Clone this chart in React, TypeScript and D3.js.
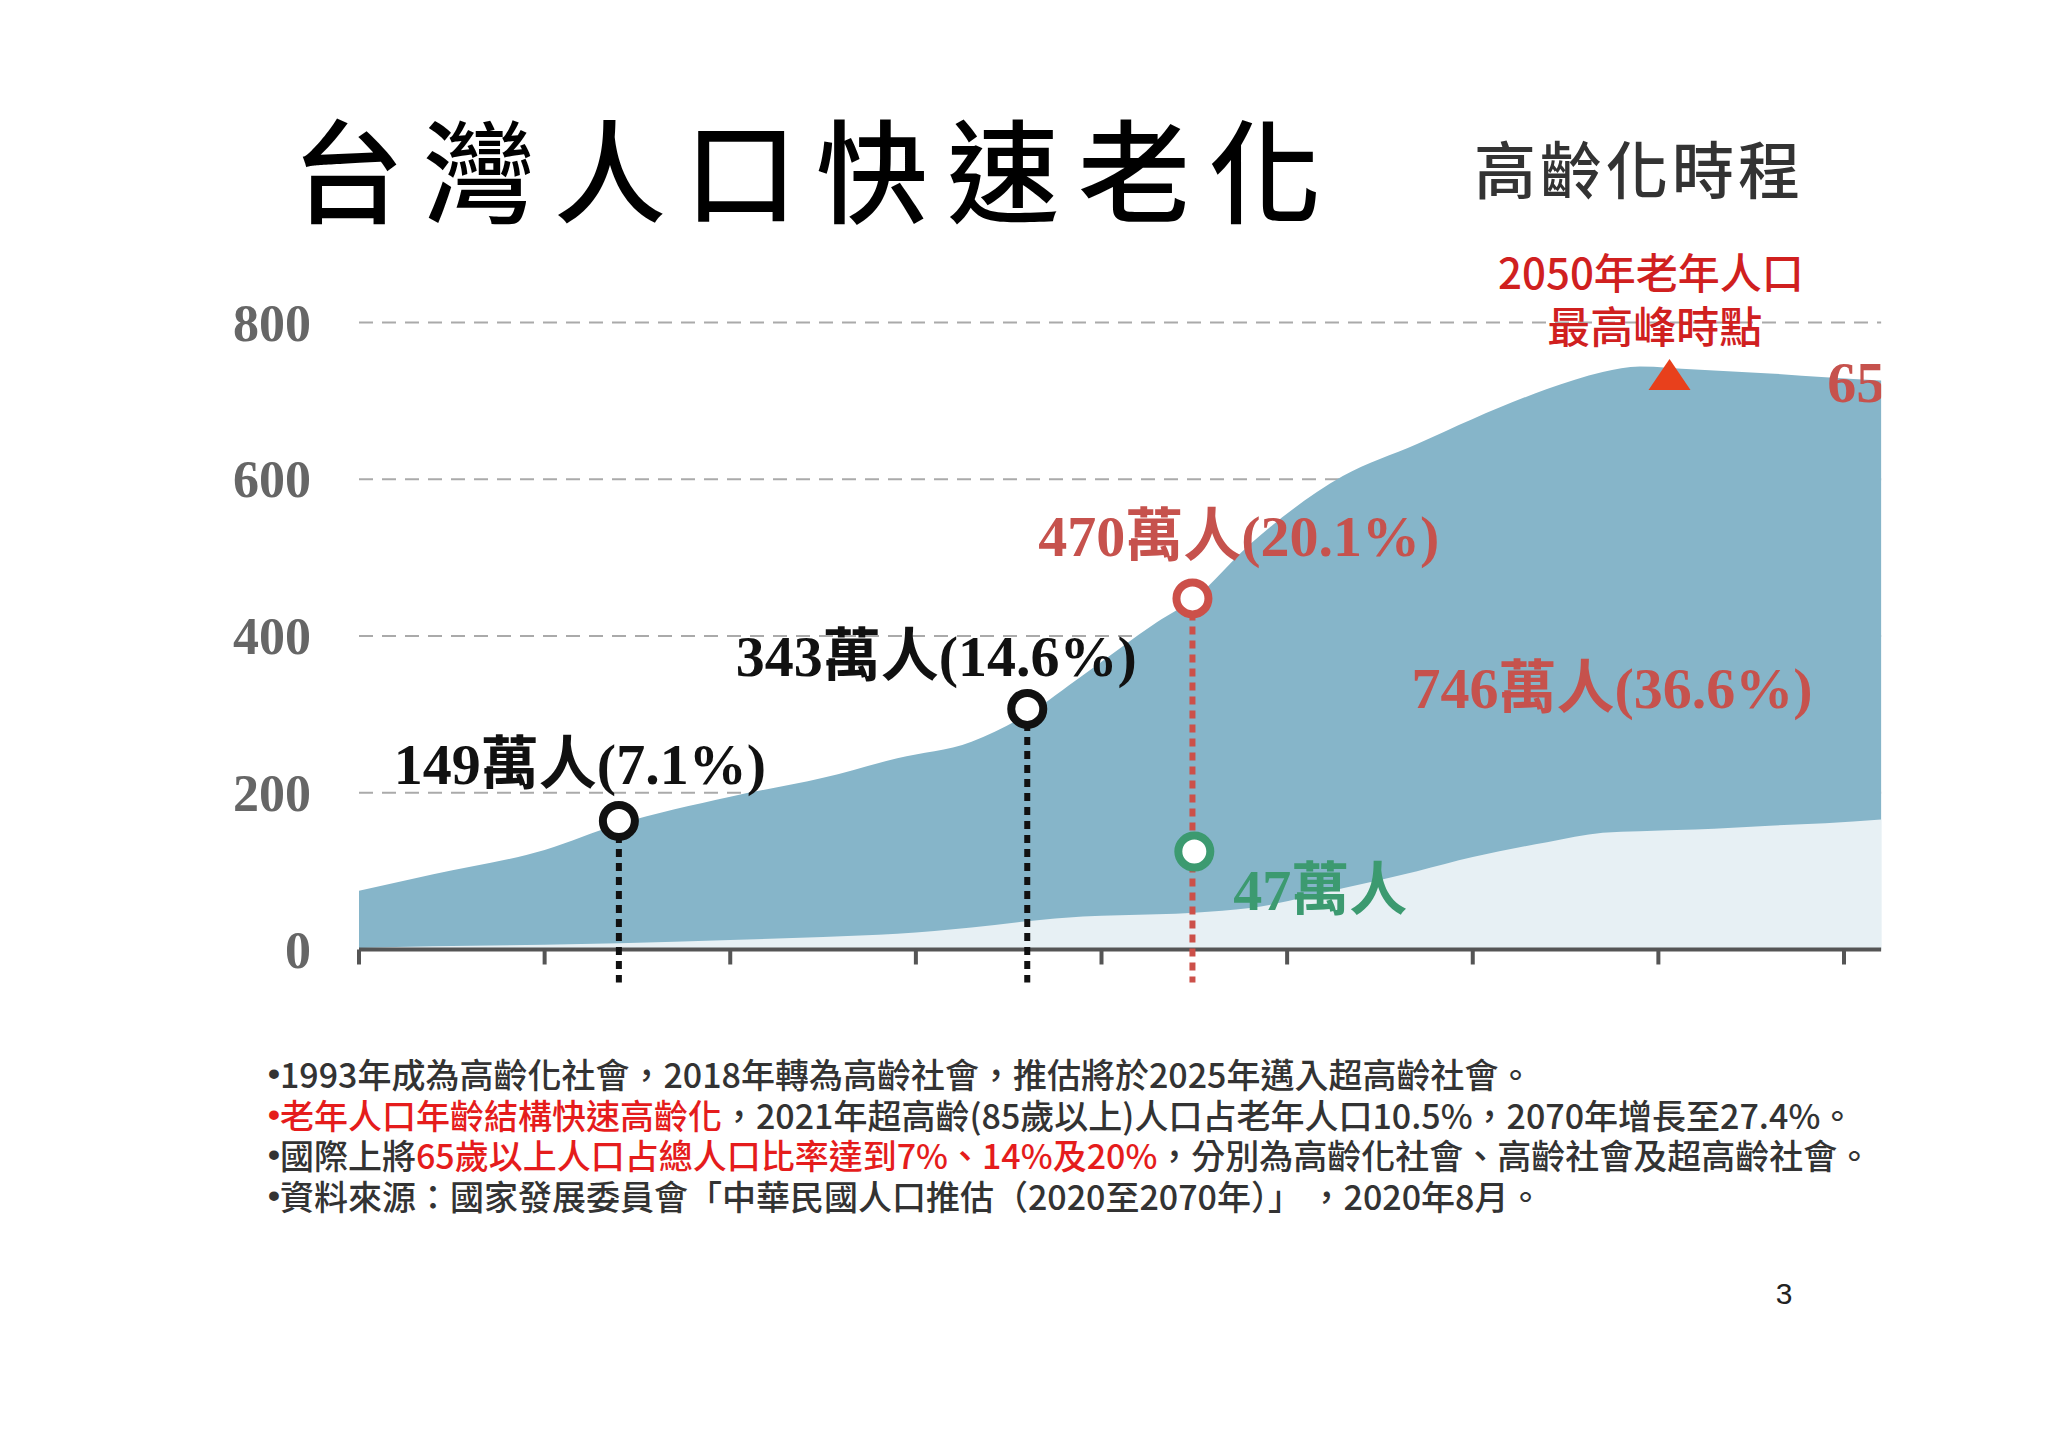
import * as d3 from "d3";

const W = 2048;
const H = 1448;

// years (ticks every 10 years)
const years = [1980, 1984, 1990, 1994, 2000, 2005, 2009, 2013, 2016, 2019, 2023, 2025, 2028, 2033, 2037, 2040, 2044, 2047, 2049, 2052, 2056, 2059, 2062];
// 65+ population (萬人), top of the dark area
const elderly = [75, 96, 127, 160, 195, 219, 244, 265, 300, 350, 418, 448, 517, 604, 645, 677, 715, 737, 744, 740, 735, 730, 726];
// 85+ population (萬人), top of the light area
const oldest = [2, 4, 6, 8, 12, 16, 20, 28, 36, 42, 45, 47, 53, 78, 100, 118, 137, 149, 151, 153, 158, 161, 166];

const yTicks = [0, 200, 400, 600, 800];
const gridValues = [200, 400, 600, 800];

const markerYears = [1994, 2016, 2024.9];
const markerValues = [164, 307, 448];
const markerColors = ["#111", "#111", "#cc5049"];

const labelTexts = ["149萬人(7.1%)", "343萬人(14.6%)", "470萬人(20.1%)", "746萬人(36.6%)", "47萬人", "65"];
const labelYears = [1991.9, 2011.1, 2027.4, 2047.5, 2027.1, 2059.1];
const labelValues = [211, 349, 502, 308, 50, 698];
const labelColors = ["#111", "#111", "#c6524d", "#c6524d", "#3c9a70", "#c6524d"];
const labelAnchors = ["middle", "middle", "middle", "middle", "start", "start"];

const peakYear = 2050.6;
const peakValue = 714;
const greenYear = 2025;
const greenValue = 125;

const notes = [
  [["1993年成為高齡化社會，2018年轉為高齡社會，推估將於2025年邁入超高齡社會。", false]],
  [["老年人口年齡結構快速高齡化", true], ["，2021年超高齡(85歲以上)人口占老年人口10.5%，2070年增長至27.4%。", false]],
  [["國際上將", false], ["65歲以上人口占總人口比率達到7%、14%及20%", true], ["，分別為高齡化社會、高齡社會及超高齡社會。", false]],
  [["資料來源：國家發展委員會「中華民國人口推估（2020至2070年）」 ，2020年8月。", false]],
] as [string, boolean][][];

const SERIF = "'Liberation Serif', 'Times New Roman', 'Noto Sans CJK TC', serif";
const SANS = "'Noto Sans CJK TC', 'Noto Sans', sans-serif";

export default function App() {
  const x = d3.scaleLinear().domain([1980, 2060]).range([359, 1844]);
  const y = d3.scaleLinear().domain([0, 800]).range([949.5, 322.5]);
  const right = x(years[years.length - 1]);

  const area = d3
    .area<number>()
    .x((_, i) => x(years[i]))
    .y0(y(0))
    .y1((d) => y(d))
    .curve(d3.curveMonotoneX);

  const dotBottom = y(0) + 33;
  const px = x(peakYear);
  const py = y(peakValue);

  return (
    <svg
      width={W}
      height={H}
      style={{ position: "absolute", left: 0, top: 0, background: "#fff" }}
    >
      <defs>
        <clipPath id="plot">
          <rect x={0} y={0} width={right} height={H} />
        </clipPath>
      </defs>

      {/* Titles */}
      <text
        x={292}
        y={166}
        dominantBaseline="central"
        fontFamily={SANS}
        fontSize={112}
        fontWeight={500}
        letterSpacing={19}
        fill="#000"
      >
        台灣人口快速老化
      </text>
      <text
        x={1474}
        y={167}
        dominantBaseline="central"
        fontFamily={SANS}
        fontSize={62}
        fontWeight={500}
        letterSpacing={4}
        fill="#333"
      >
        高齡化時程
      </text>

      {/* Grid */}
      {gridValues.map((v) => (
        <line
          key={v}
          x1={x(1980)}
          x2={right}
          y1={y(v)}
          y2={y(v)}
          stroke="#aaa"
          strokeWidth={2}
          strokeDasharray="14 9"
        />
      ))}

      {/* Y labels */}
      {yTicks.map((v) => (
        <text
          key={v}
          x={311}
          y={y(v) + 18}
          textAnchor="end"
          fontFamily={SERIF}
          fontWeight="bold"
          fontSize={52}
          fill="#666"
        >
          {v}
        </text>
      ))}

      {/* Areas */}
      <path d={area(elderly) ?? ""} fill="#86b5c9" />
      <path d={area(oldest) ?? ""} fill="#e7f0f4" />

      {/* X axis */}
      <line x1={x(1980)} x2={right} y1={y(0)} y2={y(0)} stroke="#555" strokeWidth={4} />
      {x.ticks(8).map((t) => (
        <line key={t} x1={x(t)} x2={x(t)} y1={y(0)} y2={y(0) + 15} stroke="#555" strokeWidth={4} />
      ))}

      {/* Dotted drop lines */}
      {markerYears.map((yr, i) => (
        <line
          key={i}
          x1={x(yr)}
          x2={x(yr)}
          y1={y(markerValues[i])}
          y2={dotBottom}
          stroke={markerColors[i]}
          strokeWidth={6}
          strokeDasharray="8 6"
        />
      ))}

      {/* Markers */}
      {markerYears.map((yr, i) => (
        <circle
          key={i}
          cx={x(yr)}
          cy={y(markerValues[i])}
          r={16}
          fill="#fff"
          stroke={markerColors[i]}
          strokeWidth={8}
        />
      ))}
      <circle cx={x(greenYear)} cy={y(greenValue)} r={16} fill="#fff" stroke="#3c9a70" strokeWidth={8} />

      {/* Peak triangle */}
      <path d={`M${px - 21},${py} L${px + 21},${py} L${px},${py - 31} Z`} fill="#e8401c" />
      <text
        x={x(2049.6)}
        y={y(866)}
        textAnchor="middle"
        dominantBaseline="central"
        fontFamily={SANS}
        fontSize={42}
        fontWeight={500}
        fill="#d0201f"
      >
        2050年老年人口
      </text>
      <text
        x={x(2049.8)}
        y={y(798)}
        textAnchor="middle"
        dominantBaseline="central"
        fontFamily={SANS}
        fontSize={43}
        fontWeight={500}
        fill="#d0201f"
      >
        最高峰時點
      </text>

      {/* Value labels */}
      <g clipPath="url(#plot)">
        {labelTexts.map((t, i) => (
          <text
            key={i}
            x={x(labelYears[i])}
            y={y(labelValues[i])}
            textAnchor={labelAnchors[i]}
            fontFamily={SERIF}
            fontWeight="bold"
            fontSize={58}
            fill={labelColors[i]}
          >
            {t}
          </text>
        ))}
      </g>

      {/* Notes */}
      {notes.map((line, i) => (
        <text
          key={i}
          x={268}
          y={1073 + i * 40.5}
          dominantBaseline="central"
          fontFamily={SANS}
          fontSize={34}
          fontWeight={500}
          fill="#333"
        >
          <tspan
            fontFamily="'Liberation Sans', Arial, sans-serif"
            fontWeight="bold"
            fill={line[0][1] ? "#e51c1c" : "#333"}
          >
            •
          </tspan>
          {line.map(([s, red], j) => (
            <tspan key={j} fill={red ? "#e51c1c" : "#333"}>
              {s}
            </tspan>
          ))}
        </text>
      ))}

      <text
        x={1784}
        y={1293}
        textAnchor="middle"
        dominantBaseline="central"
        fontFamily="'Liberation Sans', Arial, sans-serif"
        fontSize={30}
        fill="#222"
      >
        3
      </text>
    </svg>
  );
}
